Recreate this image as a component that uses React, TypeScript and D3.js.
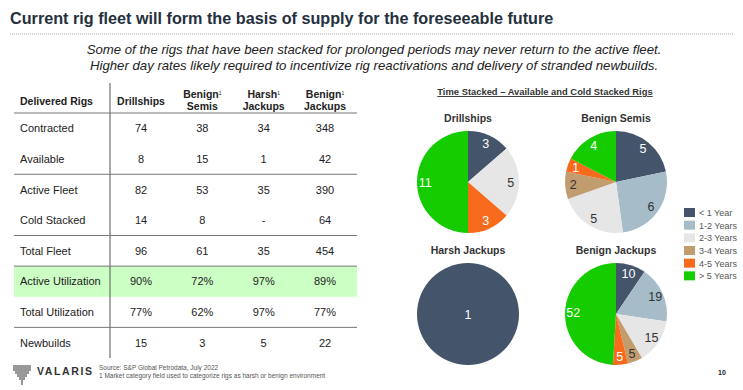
import * as d3 from "d3";

const W = 743;
const H = 390;

const title = "Current rig fleet will form the basis of supply for the foreseeable future";
const subtitleLines = [
  "Some of the rigs that have been stacked for prolonged periods may never return to the active fleet.",
  "Higher day rates likely required to incentivize rig reactivations and delivery of stranded newbuilds.",
];

// table
const rowLabels = [
  "Contracted",
  "Available",
  "Active Fleet",
  "Cold Stacked",
  "Total Fleet",
  "Active Utilization",
  "Total Utilization",
  "Newbuilds",
];
const columnHeads = [
  { lines: ["Drillships"], sup: false },
  { lines: ["Benign", "Semis"], sup: true },
  { lines: ["Harsh", "Jackups"], sup: true },
  { lines: ["Benign", "Jackups"], sup: true },
];
const drillshipsCol = ["74", "8", "82", "14", "96", "90%", "77%", "15"];
const benignSemisCol = ["38", "15", "53", "8", "61", "72%", "62%", "3"];
const harshJackupsCol = ["34", "1", "35", "-", "35", "97%", "97%", "5"];
const benignJackupsCol = ["348", "42", "390", "64", "454", "89%", "77%", "22"];
const tableCols = [drillshipsCol, benignSemisCol, harshJackupsCol, benignJackupsCol];
const linesAfterRow = [-1, 1, 3, 4, 6]; // -1 = below header
const highlightRow = 5;

// pies
const ageBuckets = ["< 1 Year", "1-2 Years", "2-3 Years", "3-4 Years", "4-5 Years", "> 5 Years"];
const ageColors = ["#44546a", "#a6bdc9", "#e6e6e6", "#c09c6e", "#f86a1c", "#15cc00"];
const ageLabelDark = [false, true, true, true, false, false];
const drillshipsAges = [3, 0, 5, 0, 3, 11];
const benignSemisAges = [5, 6, 5, 2, 1, 4];
const harshJackupsAges = [1, 0, 0, 0, 0, 0];
const benignJackupsAges = [10, 19, 15, 5, 5, 52];
const pies = [
  { name: "Drillships", values: drillshipsAges, col: 0, row: 0 },
  { name: "Benign Semis", values: benignSemisAges, col: 1, row: 0 },
  { name: "Harsh Jackups", values: harshJackupsAges, col: 0, row: 1 },
  { name: "Benign Jackups", values: benignJackupsAges, col: 1, row: 1 },
];

const FONT = "Liberation Sans, Arial, sans-serif";
const TEXT = "#222";

function Table() {
  const x0 = 14;
  const x1 = 357;
  const divX = 110;
  const colX = d3.scalePoint<number>().domain([0, 1, 2, 3]).range([141, 325]);
  const rowY = d3.scaleBand<number>().domain(d3.range(rowLabels.length)).range([113, 358]);
  const bw = rowY.bandwidth();
  return (
    <g fontFamily={FONT} fill={TEXT}>
      <rect x={x0} y={rowY(highlightRow)} width={x1 - x0} height={bw} fill="#ccffc4" />
      <text x={20} y={105} fontSize={10.5} fontWeight="bold">
        Delivered Rigs
      </text>
      {columnHeads.map((h, i) =>
        h.lines.map((l, j) => (
          <text
            key={i + "-" + j}
            x={colX(i)}
            y={(h.lines.length === 1 ? 105 : 98) + j * 12}
            textAnchor="middle"
            fontSize={10.5}
            fontWeight="bold"
          >
            {l}
            {j === 0 && h.sup ? (
              <tspan fontSize={5} baselineShift="super" fontWeight="normal">
                1
              </tspan>
            ) : null}
          </text>
        ))
      )}
      <line x1={divX} x2={divX} y1={83} y2={358} stroke="#555" strokeWidth={1} />
      {linesAfterRow.map((r) => {
        const y = r < 0 ? 113 : (rowY(r) ?? 0) + bw;
        return <line key={r} x1={x0} x2={x1} y1={y} y2={y} stroke="#777" strokeWidth={1} />;
      })}
      {rowLabels.map((lab, r) => {
        const cy = (rowY(r) ?? 0) + bw / 2 + 4;
        return (
          <g key={lab} fontSize={11}>
            <text x={20} y={cy}>
              {lab}
            </text>
            {tableCols.map((col, c) => (
              <text key={c} x={colX(c)} y={cy} textAnchor="middle">
                {col[r]}
              </text>
            ))}
          </g>
        );
      })}
    </g>
  );
}

function Pie({ name, values, cx, cy }: { name: string; values: number[]; cx: number; cy: number }) {
  const r = 51;
  const arcs = d3.pie<number>().sort(null).value((d) => d)(values);
  const arc = d3.arc<d3.PieArcDatum<number>>().innerRadius(0).outerRadius(r);
  const labelArc = d3.arc<d3.PieArcDatum<number>>().innerRadius(r * 0.84).outerRadius(r * 0.84);
  const total = d3.sum(values);
  return (
    <g fontFamily={FONT}>
      <text x={cx} y={cy - 60} textAnchor="middle" fontSize={10.5} fontWeight="bold" fill="#333">
        {name}
      </text>
      <g transform={`translate(${cx},${cy})`}>
        {arcs.map((a, i) =>
          a.value > 0 ? <path key={i} d={arc(a) ?? ""} fill={ageColors[i]} /> : null
        )}
        {arcs.map((a, i) => {
          if (a.value <= 0) return null;
          const [lx, ly] = a.value === total ? [0, 0] : labelArc.centroid(a);
          return (
            <text
              key={"l" + i}
              x={lx}
              y={ly + 4.5}
              textAnchor="middle"
              fontSize={12.5}
              fill={ageLabelDark[i] ? "#333" : "#fff"}
            >
              {a.value}
            </text>
          );
        })}
      </g>
    </g>
  );
}

function Logo() {
  const bars = [6, 9, 12, 15, 20, 15, 12, 9, 6];
  const x = d3.scaleLinear().domain([0, bars.length - 1]).range([14, 30]);
  return (
    <g>
      {bars.map((len, i) => (
        <line key={i} x1={x(i)} x2={x(i)} y1={365} y2={365 + len} stroke="#333" strokeWidth={1} />
      ))}
      <text x={37} y={375} fontFamily={FONT} fontWeight="bold" fontSize={10.5} letterSpacing={1.6} fill="#333">
        VALARIS
      </text>
    </g>
  );
}

export default function App() {
  const pieX = d3.scalePoint<number>().domain([0, 1]).range([468, 616]);
  const pieY = d3.scalePoint<number>().domain([0, 1]).range([182, 314]);
  const legendY = d3.scaleBand<number>().domain(d3.range(ageBuckets.length)).range([206, 282]);
  return (
    <svg
      width={W}
      height={H}
      viewBox={`0 0 ${W} ${H}`}
      style={{ position: "absolute", left: 0, top: 0, background: "#fff" }}
    >
      <text x={10} y={24} fontFamily={FONT} fontWeight="bold" fontSize={16.2} fill="#25303d">
        {title}
      </text>
      <line x1={10} x2={733} y1={34} y2={34} stroke="#c8c8c8" strokeWidth={1.5} strokeDasharray="1 1" />
      {subtitleLines.map((l, i) => (
        <text
          key={i}
          x={374}
          y={54 + i * 16}
          textAnchor="middle"
          fontFamily={FONT}
          fontStyle="italic"
          fontSize={13.2}
          fill={TEXT}
        >
          {l}
        </text>
      ))}
      <Table />
      <text
        x={545}
        y={95}
        textAnchor="middle"
        fontFamily={FONT}
        fontWeight="bold"
        fontSize={9.4}
        fill="#333"
        textDecoration="underline"
      >
        Time Stacked – Available and Cold Stacked Rigs
      </text>
      {pies.map((p) => (
        <Pie key={p.name} name={p.name} values={p.values} cx={pieX(p.col) ?? 0} cy={pieY(p.row) ?? 0} />
      ))}
      <g fontFamily={FONT} fontSize={9} fill="#555">
        {ageBuckets.map((b, i) => (
          <g key={b} transform={`translate(684,${legendY(i) ?? 0})`}>
            <rect x={0} y={2} width={11} height={9} fill={ageColors[i]} />
            <text x={15} y={10}>
              {b}
            </text>
          </g>
        ))}
      </g>
      <Logo />
      <g fontFamily={FONT} fontSize={6.5} fill="#555">
        <text x={99} y={370}>
          Source: S&amp;P Global Petrodata, July 2022
        </text>
        <text x={99} y={377.5}>
          1 Market category field used to categorize rigs as harsh or benign environment
        </text>
      </g>
      <text x={722} y={375} textAnchor="middle" fontFamily={FONT} fontWeight="bold" fontSize={7} fill="#222">
        10
      </text>
    </svg>
  );
}
